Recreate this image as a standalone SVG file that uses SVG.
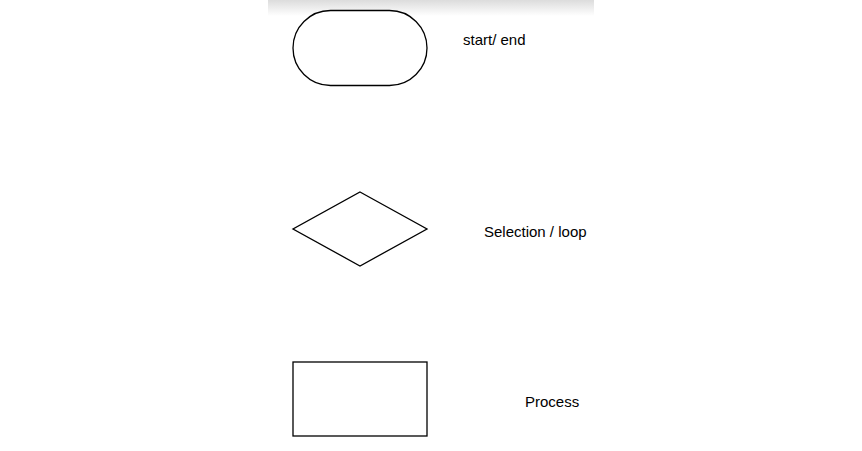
<svg xmlns="http://www.w3.org/2000/svg" width="862" height="451" viewBox="0 0 862 451">
<defs>
<linearGradient id="shade" x1="0" y1="0" x2="0" y2="1">
<stop offset="0" stop-color="#dcdcdc"/>
<stop offset="1" stop-color="#ffffff"/>
</linearGradient>
</defs>
<style>
.shape{fill:#fff;stroke:#000;stroke-width:1.3}
.lbl{font-family:"Liberation Sans",Arial,sans-serif;font-size:15px;fill:#000}
</style>
<rect width="862" height="451" fill="#fff"/>
<rect x="268" y="0" width="326" height="16" fill="url(#shade)"/>
<g id="startend">
<rect class="shape" x="293" y="10.5" width="134" height="75" rx="37.5" ry="37.5"/>
<text class="lbl" x="463" y="45">start/ end</text>
</g>
<g id="selection">
<polygon class="shape" points="360,192 427,229 360,266 293,229"/>
<text class="lbl" x="484" y="237">Selection / loop</text>
</g>
<g id="process">
<rect class="shape" x="293" y="362" width="134" height="74"/>
<text class="lbl" x="525" y="407">Process</text>
</g>
<g id="connectors"/>
</svg>
